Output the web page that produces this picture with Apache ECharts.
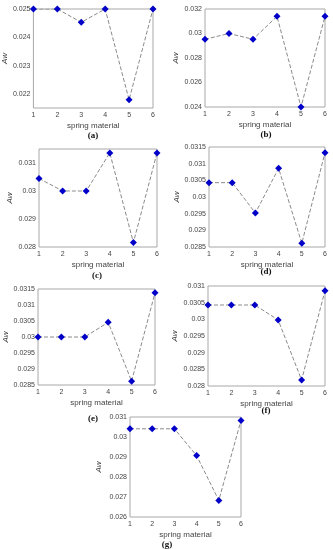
<!DOCTYPE html>
<html>
<head>
<meta charset="utf-8">
<script src="https://cdn.jsdelivr.net/npm/echarts@6/dist/echarts.min.js"></script>
<style>html,body{margin:0;padding:0;background:#fff}#c{width:333px;height:550px}</style>
</head>
<body>
<div id="c"></div>
<script>
// ---- data ----
var materials = [1, 2, 3, 4, 5, 6];
var awA = [0.0250, 0.0250, 0.02453, 0.0250, 0.02179, 0.0250];
var awB = [0.02953, 0.0300, 0.02953, 0.0314, 0.0240, 0.0314];
var awC = [0.03045, 0.0300, 0.0300, 0.03136, 0.02816, 0.03136];
var awD = [0.03043, 0.03043, 0.02952, 0.03086, 0.02861, 0.03133];
var awE = [0.0300, 0.0300, 0.0300, 0.03046, 0.02862, 0.03138];
var awF = [0.03043, 0.03043, 0.03043, 0.02998, 0.02818, 0.03086];
var awG = [0.03041, 0.03041, 0.03041, 0.02907, 0.02683, 0.03083];
var panelNames = ['(a)', '(b)', '(c)', '(d)', '(e)', '(f)', '(g)'];
// y-axis ranges: min, max, tick step, label step
var yMins = [0.0215, 0.024, 0.028, 0.0285, 0.0285, 0.028, 0.026];
var yMaxs = [0.025, 0.032, 0.0315, 0.0315, 0.0315, 0.031, 0.031];
var ySteps = [0.0005, 0.002, 0.0005, 0.0005, 0.0005, 0.0005, 0.001];
var yLabelSteps = [0.001, 0.002, 0.001, 0.0005, 0.0005, 0.0005, 0.001];
var xLabel = 'spring material';
var yLabel = 'Aw';

var seriesData = [awA, awB, awC, awD, awE, awF, awG];

// ---- layout ----
var grids = [
  {left: 33, top: 9, width: 120, height: 99},
  {left: 205, top: 9, width: 120, height: 98},
  {left: 39, top: 149, width: 118, height: 98},
  {left: 209, top: 147, width: 116, height: 100},
  {left: 38, top: 289, width: 117, height: 96},
  {left: 208, top: 286, width: 117, height: 100},
  {left: 130, top: 417, width: 111, height: 100}
];
var yNameGaps = [21, 25, 25, 28, 26, 29, 27];
var panelLabelPos = [[93, 131], [266, 130], [97, 271], [266, 267], [93, 414], [266, 406], [167, 540]];

var chart = echarts.init(document.getElementById('c'));
var option = {
  animation: false,
  backgroundColor: '#fff',
  grid: [], xAxis: [], yAxis: [], series: [], title: []
};
function fmt(v) { return String(Number(v.toPrecision(6))); }
for (var i = 0; i < 7; i++) {
  (function (i) {
    var g = grids[i];
    option.grid.push({left: g.left, top: g.top, width: g.width, height: g.height,
      show: true, borderColor: '#a8a8a8', borderWidth: 1, containLabel: false});
    option.xAxis.push({
      type: 'value', gridIndex: i, min: 1, max: 6, interval: 1,
      name: xLabel, nameLocation: 'middle', nameGap: 14,
      nameTextStyle: {fontSize: 8, color: '#444', fontFamily: 'Liberation Sans'},
      axisLine: {show: false}, axisTick: {show: false}, splitLine: {show: false},
      axisLabel: {fontSize: 7, color: '#444', margin: 4, fontFamily: 'Liberation Sans'}
    });
    option.yAxis.push({
      type: 'value', gridIndex: i, min: yMins[i], max: yMaxs[i], interval: ySteps[i],
      name: yLabel, nameLocation: 'middle', nameGap: yNameGaps[i], nameRotate: 90,
      nameTextStyle: {fontSize: 8, color: '#444', fontStyle: 'italic', fontFamily: 'Liberation Sans'},
      axisLine: {show: false}, axisTick: {show: false}, splitLine: {show: false},
      axisLabel: {fontSize: 7, color: '#444', margin: 3, fontFamily: 'Liberation Sans',
        showMinLabel: true, showMaxLabel: true,
        formatter: function (v) {
          var r = v / yLabelSteps[i];
          if (Math.abs(r - Math.round(r)) > 1e-4) return '';
          return fmt(v);
        }}
    });
    option.series.push({
      type: 'line', xAxisIndex: i, yAxisIndex: i,
      data: materials.map(function (m, k) { return [m, seriesData[i][k]]; }),
      symbol: 'diamond', symbolSize: 7,
      itemStyle: {color: '#0000c8'},
      lineStyle: {color: '#8a8a8a', width: 1, type: [4, 2]}
    });
    option.title.push({
      text: panelNames[i], left: panelLabelPos[i][0], top: panelLabelPos[i][1],
      textAlign: 'center', padding: 0,
      textStyle: {fontSize: 9, fontWeight: 'bold', color: '#111', fontFamily: 'Liberation Serif'}
    });
  })(i);
}
chart.setOption(option);
</script>
</body>
</html>
